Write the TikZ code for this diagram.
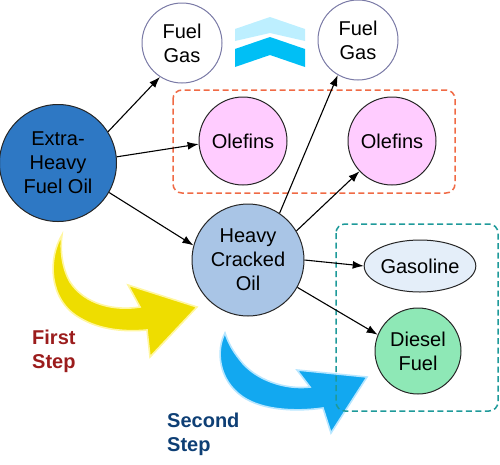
\documentclass[tikz,border=0pt]{standalone}
\usepackage{fontspec}
\setmainfont{Liberation Sans}
\usetikzlibrary{shapes.geometric,arrows.meta}
\definecolor{ehfo}{HTML}{2E78C4}
\definecolor{hco}{HTML}{A9C5E6}
\definecolor{olef}{HTML}{FFCCFF}
\definecolor{gasl}{HTML}{E4EEF9}
\definecolor{dies}{HTML}{8EE8B6}
\definecolor{fgline}{HTML}{7A7AA6}
\definecolor{orangedash}{HTML}{F06A45}
\definecolor{tealdash}{HTML}{1E9A9A}
\definecolor{redtext}{HTML}{9B1C1C}
\definecolor{bluetext}{HTML}{0E3F75}
\definecolor{chevlight}{HTML}{BDEFFF}
\definecolor{chevdark}{HTML}{00BFF5}
\definecolor{yarrow}{HTML}{EEDD00}
\definecolor{yedge}{HTML}{FFF6A0}
\definecolor{barrow}{HTML}{12A8F0}
\definecolor{bedge}{HTML}{B8E6FF}
\begin{document}
\begin{tikzpicture}[x=1pt,y=-1pt,
  txt/.style={font=\fontsize{20}{24}\selectfont, align=center},
  ball/.style={circle, draw=black!85, line width=1pt, inner sep=0pt, txt},
  fgball/.style={circle, draw=fgline, line width=1pt, fill=white, inner sep=0pt, minimum size=80pt, txt},
  flow/.style={line width=1.1pt, -{Latex[length=11pt,width=8pt]}},
  dashbox/.style={dashed, dash pattern=on 6pt off 3.5pt, line width=1.5pt, rounded corners=9pt},
  steplabel/.style={font=\bfseries\fontsize{20}{24}\selectfont, align=left, anchor=north west, inner sep=0pt}
]
\useasboundingbox (0,0) rectangle (500,464);

% chevrons
\fill[chevlight] (235,29) -- (270,17) -- (305,29) -- (305,41) -- (270,33) -- (235,41) -- cycle;
\fill[chevdark] (235,49) -- (270,37) -- (305,49) -- (305,67) -- (270,55) -- (235,67) -- cycle;

% yellow curved arrow
\filldraw[fill=yarrow, draw=yedge, line width=1.6pt, line join=miter]
  (62,235) .. controls (48,258) and (48,300) .. (80,318)
  .. controls (100,330) and (125,332) .. (147,330)
  -- (150,357) -- (197,307) -- (128,285) -- (140,307)
  .. controls (115,311) and (85,305) .. (70,282)
  .. controls (62,268) and (60,250) .. cycle;

% blue curved arrow
\filldraw[fill=barrow, draw=bedge, line width=1.6pt, line join=miter]
  (225,333) .. controls (216,350) and (218,380) .. (243,397)
  .. controls (262,410) and (295,412) .. (323,408)
  -- (331,433) -- (367,377) -- (297,370) -- (310,387)
  .. controls (285,390) and (255,380) .. (240,360)
  .. controls (232,350) and (228,342) .. cycle;

% dashed boxes
\draw[dashbox, orangedash] (173,90) rectangle (455,193);
\draw[dashbox, tealdash] (336,224) rectangle (498,411);

% nodes
\node[fgball] (fg1) at (182,43) {Fuel\\Gas};
\node[fgball] (fg2) at (358,40) {Fuel\\Gas};
\node[ball, fill=ehfo, minimum size=117pt] (ehfo) at (58,163) {Extra-\\Heavy\\Fuel Oil};
\node[ball, fill=olef, minimum size=88pt] (ol1) at (243,141) {Olefins};
\node[ball, fill=olef, minimum size=88pt] (ol2) at (392,141) {Olefins};
\node[ball, fill=hco, minimum size=112pt] (hco) at (248,260) {Heavy\\Cracked\\Oil};
\node[ellipse, draw=black!85, line width=1pt, fill=gasl, inner sep=0pt, minimum width=110pt, minimum height=52pt, txt] (gas) at (420,266) {Gasoline};
\node[ball, fill=dies, minimum size=86pt] (dsl) at (418,351) {Diesel\\Fuel};

% connectors
\draw[flow] (ehfo.32) -- (fg1.237);
\draw[flow] (ehfo.6) -- (ol1.184);
\draw[flow] (ehfo.-30) -- (hco.165);
\draw[flow] (hco.56) -- (fg2.240);
\draw[flow] (hco.31) -- (ol2.223);
\draw[flow] (hco.0) -- (gas.west);
\draw[flow] (hco.-29) -- (dsl.158);

% step labels
\node[steplabel, text=redtext] (first) at (32,330) {First\\Step};
\node[steplabel, text=bluetext] (second) at (167,413) {Second\\Step};
\end{tikzpicture}
\end{document}
